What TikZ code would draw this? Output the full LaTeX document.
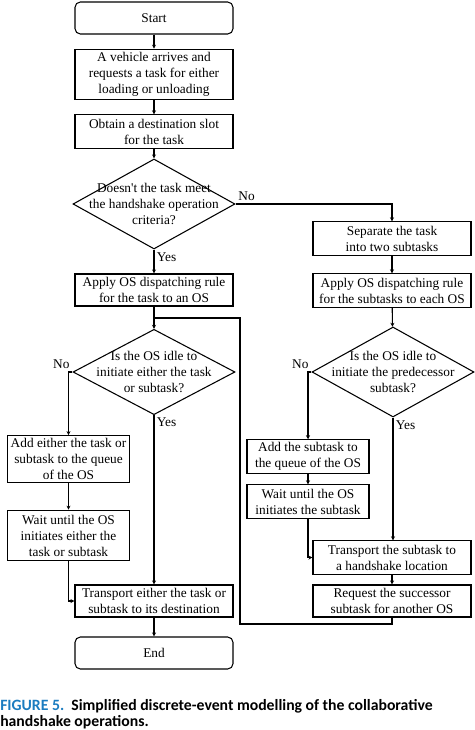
\documentclass[tikz,border=0pt]{standalone}
\usepackage{fontspec}
\setmainfont{Liberation Serif}
\newfontfamily\capfont{Carlito}
\usepackage{xcolor}
\usepackage{tikz}
\usetikzlibrary{shapes.geometric,arrows.meta}

\definecolor{figblue}{HTML}{1B7CC0}

\tikzset{
  box/.style={draw, thick, rectangle, align=center, inner sep=2pt,
    font=\fontsize{10}{12}\selectfont, minimum height=24pt},
  wide/.style={box, minimum width=118.5pt},
  narrow/.style={box, minimum width=92pt},
  term/.style={wide, rounded corners=4pt},
  choice/.style={draw, thick, diamond, inner sep=0pt, minimum width=121.5pt,
    minimum height=67.5pt},
  qtext/.style={align=center, font=\fontsize{10}{12}\selectfont},
  flow/.style={thick, -{Stealth[length=3pt,width=3pt]}},
  lab/.style={font=\fontsize{10}{12}\selectfont, inner sep=2pt}
}

\begin{document}
\begin{tikzpicture}[x=0.75pt, y=-0.75pt]
  \useasboundingbox (0,0) rectangle (474,730);

  % left column
  \node[term] (start) at (154,18) {Start};
  \node[wide, minimum height=38pt] (vehicle) at (154,74.5)
    {A vehicle arrives and\\requests a task for either\\loading or unloading};
  \node[wide, minimum height=25pt] (obtain) at (154,131.5)
    {Obtain a destination slot\\for the task};
  \node[choice] (crit) at (154,204) {};
  \node[qtext] at (crit) {Doesn\textquotesingle t the task meet\\the handshake operation\\criteria?};
  \node[wide] (applyL) at (154,290) {Apply OS dispatching rule\\for the task to an OS};
  \node[choice, minimum height=64pt] (idleL) at (154,372) {};
  \node[qtext] at (idleL) {Is the OS idle to\\initiate either the task\\or subtask?};
  \node[narrow, minimum height=34.5pt] (queueL) at (68.5,459)
    {Add either the task or\\subtask to the queue\\of the OS};
  \node[narrow, minimum height=38pt] (waitL) at (68.5,535.5)
    {Wait until the OS\\initiates either the\\task or subtask};
  \node[wide] (moveL) at (154,601) {Transport either the task or\\subtask to its destination};
  \node[term] (end) at (154,653) {End};

  % right column
  \node[wide, minimum height=25pt] (split) at (392,238.5) {Separate the task\\into two subtasks};
  \node[wide, minimum height=25pt] (applyR) at (392,290.5)
    {Apply OS dispatching rule\\for the subtasks to each OS};
  \node[choice] (idleR) at (393,372) {};
  \node[qtext] at (idleR) {Is the OS idle to\\initiate the predecessor\\subtask?};
  \node[narrow, minimum width=91.5pt, minimum height=25pt] (queueR) at (308,456.5)
    {Add the subtask to\\the queue of the OS};
  \node[narrow, minimum width=91.5pt, minimum height=25pt] (waitR) at (308,501.5)
    {Wait until the OS\\initiates the subtask};
  \node[wide, minimum height=25pt] (moveR) at (392,557.5)
    {Transport the subtask to\\a handshake location};
  \node[wide] (request) at (392,601) {Request the successor\\subtask for another OS};

  \coordinate (loopB) at (240,624);
  \coordinate (join) at (154,318);

  % connectors
  \draw[flow] (start) -- (vehicle);
  \draw[flow] (vehicle) -- (obtain);
  \draw[flow] (obtain) -- (crit);
  \draw[flow] (crit.east) -| (split.north);
  \draw[flow] (crit) -- (applyL);
  \draw[flow] (applyL) -- (idleL);
  \draw[flow] (idleL.west) -| (queueL.north);
  \draw[flow] (queueL) -- (waitL);
  \draw[flow] (waitL.south) |- (moveL.west);
  \draw[flow] (idleL) -- (moveL);
  \draw[flow] (moveL) -- (end);
  \draw[flow] (split) -- (applyR);
  \draw[flow] (applyR) -- (idleR);
  \draw[flow] (idleR.west) -| (queueR.north);
  \draw[flow] (queueR) -- (waitR);
  \draw[flow] (waitR.south) |- (moveR.west);
  \draw[flow] (idleR.south) -- (idleR.south |- moveR.north);
  \draw[flow] (moveR.south -| request.north) -- (request);
  \draw[thick] (request.south) |- (loopB) |- (join);

  \node[lab, above right] at (crit.east) {No};
  \node[lab, below right] at (crit.south) {Yes};
  \node[lab, above left] at (idleL.west) {No};
  \node[lab, below right] at (idleL.south) {Yes};
  \node[lab, above left] at (idleR.west) {No};
  \node[lab, below right] at (idleR.south) {Yes};

  % caption
  \node[anchor=north west, align=left, inner sep=0pt,
    font=\capfont\bfseries\fontsize{11.8}{12}\selectfont] (caption) at (0,699)
    {\textcolor{figblue}{FIGURE 5.}\ \ Simplified discrete-event modelling of the collaborative\\handshake operations.};
\end{tikzpicture}
\end{document}
